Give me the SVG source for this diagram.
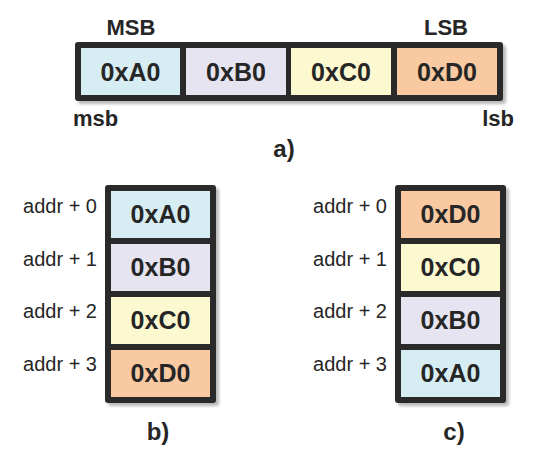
<svg xmlns="http://www.w3.org/2000/svg" width="535" height="466" viewBox="0 0 535 466">
<defs>
<filter id="sh" x="-10%" y="-10%" width="120%" height="120%"><feGaussianBlur stdDeviation="1.5"/></filter>
</defs>
<style>
.frame{fill:#2a2a2a}
.shadow{fill:#b8b8b8;filter:url(#sh)}
.a{fill:#d6edf3}
.b{fill:#e6e4f1}
.c{fill:#fcf9d1}
.d{fill:#f9c9a1}
.v{font-family:"Liberation Sans",Arial,sans-serif;font-weight:bold;font-size:25px;fill:#262626;text-anchor:middle}
.lbl{font-family:"Liberation Sans",Arial,sans-serif;font-weight:bold;font-size:22px;fill:#262626}
.cap{font-family:"Liberation Sans",Arial,sans-serif;font-weight:bold;font-size:24px;fill:#262626;text-anchor:middle}
.addr{font-family:"Liberation Sans",Arial,sans-serif;font-size:20px;fill:#262626;text-anchor:end}
</style>
<rect width="535" height="466" fill="#ffffff"/>

<g id="bar-a">
<rect class="shadow" x="78" y="45" width="428" height="59" rx="3"/>
<rect class="frame" x="75" y="42" width="428" height="59" rx="3"/>
<g id="a-A0"><rect class="a" x="81" y="48" width="99" height="47"/><text class="v" x="130.5" y="81">0xA0</text></g>
<g id="a-B0"><rect class="b" x="186" y="48" width="100" height="47"/><text class="v" x="236" y="81">0xB0</text></g>
<g id="a-C0"><rect class="c" x="291" y="48" width="100" height="47"/><text class="v" x="341" y="81">0xC0</text></g>
<g id="a-D0"><rect class="d" x="397" y="48" width="100" height="47"/><text class="v" x="447" y="81">0xD0</text></g>
<text class="lbl" x="131" y="35" text-anchor="middle">MSB</text>
<text class="lbl" x="446" y="35" text-anchor="middle">LSB</text>
<text class="lbl" x="73" y="126">msb</text>
<text class="lbl" x="514" y="126" text-anchor="end">lsb</text>
<text class="cap" x="284" y="157">a)</text>
</g>

<g id="col-b">
<rect class="shadow" x="108" y="188" width="111" height="218" rx="3"/>
<rect class="frame" x="105" y="185" width="111" height="218" rx="3"/>
<g id="b-A0"><rect class="a" x="111" y="191" width="99" height="47"/><text class="v" x="160.5" y="223">0xA0</text></g>
<g id="b-B0"><rect class="b" x="111" y="244" width="99" height="47"/><text class="v" x="160.5" y="276">0xB0</text></g>
<g id="b-C0"><rect class="c" x="111" y="297" width="99" height="47"/><text class="v" x="160.5" y="329">0xC0</text></g>
<g id="b-D0"><rect class="d" x="111" y="350" width="99" height="47"/><text class="v" x="160.5" y="382">0xD0</text></g>
<text class="addr" x="97" y="213">addr + 0</text>
<text class="addr" x="97" y="265.5">addr + 1</text>
<text class="addr" x="97" y="318">addr + 2</text>
<text class="addr" x="97" y="370.5">addr + 3</text>
<text class="cap" x="158" y="440">b)</text>
</g>

<g id="col-c">
<rect class="shadow" x="398" y="188" width="111" height="218" rx="3"/>
<rect class="frame" x="395" y="185" width="111" height="218" rx="3"/>
<g id="c-D0"><rect class="d" x="401" y="191" width="99" height="47"/><text class="v" x="450.5" y="223">0xD0</text></g>
<g id="c-C0"><rect class="c" x="401" y="244" width="99" height="47"/><text class="v" x="450.5" y="276">0xC0</text></g>
<g id="c-B0"><rect class="b" x="401" y="297" width="99" height="47"/><text class="v" x="450.5" y="329">0xB0</text></g>
<g id="c-A0"><rect class="a" x="401" y="350" width="99" height="47"/><text class="v" x="450.5" y="382">0xA0</text></g>
<text class="addr" x="387" y="213">addr + 0</text>
<text class="addr" x="387" y="265.5">addr + 1</text>
<text class="addr" x="387" y="318">addr + 2</text>
<text class="addr" x="387" y="370.5">addr + 3</text>
<text class="cap" x="454" y="440">c)</text>
</g>

<g id="connectors"></g>
</svg>
